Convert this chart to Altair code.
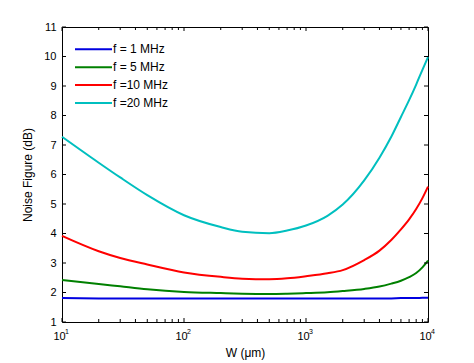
import altair as alt
import pandas as pd

# ---- data ----
W = [10, 20, 30, 50, 100, 200, 300, 500, 700, 1000, 1500, 2000, 3000, 4000, 5000, 6000, 7000, 8000, 9000, 10000]
nf_1mhz = [1.81, 1.80, 1.80, 1.80, 1.80, 1.80, 1.80, 1.80, 1.80, 1.80, 1.80, 1.80, 1.80, 1.80, 1.80, 1.81, 1.81, 1.81, 1.82, 1.82]
nf_5mhz = [2.42, 2.29, 2.21, 2.11, 2.02, 1.98, 1.96, 1.95, 1.96, 1.98, 2.01, 2.05, 2.12, 2.20, 2.30, 2.40, 2.52, 2.66, 2.85, 3.08]
nf_10mhz = [3.92, 3.40, 3.17, 2.95, 2.68, 2.53, 2.47, 2.45, 2.48, 2.55, 2.65, 2.76, 3.10, 3.42, 3.78, 4.14, 4.48, 4.83, 5.20, 5.59]
nf_20mhz = [7.28, 6.40, 5.90, 5.30, 4.62, 4.22, 4.06, 4.01, 4.10, 4.27, 4.60, 4.98, 5.80, 6.57, 7.28, 7.95, 8.52, 9.05, 9.55, 9.98]

series_names = ["f = 1 MHz", "f = 5 MHz", "f =10 MHz", "f =20 MHz"]
series_values = [nf_1mhz, nf_5mhz, nf_10mhz, nf_20mhz]
colors = ["#0000e0", "#008000", "#ff0000", "#00bfbf"]

y_ticks = list(range(1, 12))
x_major = [10, 100, 1000, 10000]
x_exponents = ["1", "2", "3", "4"]
x_minor = [k * 10 ** e for e in (1, 2, 3) for k in range(2, 10)]

PW, PH = 366, 295
FONT = "Liberation Sans"

rows = []
for name, vals in zip(series_names, series_values):
    for w, v in zip(W, vals):
        rows.append({"series": name, "W": w, "NF": v})
df = pd.DataFrame(rows)

xscale = alt.Scale(type="log", domain=[10, 10000], nice=False)
yscale = alt.Scale(domain=[1, 11], nice=False, zero=False)
cscale = alt.Scale(domain=series_names, range=colors)

xaxis = alt.Axis(values=x_major, labelExpr="'10'", ticks=False, tickSize=0,
                 domain=False, grid=False, labelPadding=8, labelOffset=-3,
                 labelFlush=False, title="W (μm)", titlePadding=6, titleFontSize=12)
yaxis = alt.Axis(values=y_ticks, ticks=False, tickSize=0, domain=False,
                 grid=False, labelPadding=6, title="Noise Figure (dB)", titlePadding=9,
                 titleFontSize=12)

lines = alt.Chart(df).mark_line(strokeWidth=2, interpolate="monotone").encode(
    x=alt.X("W:Q", scale=xscale, axis=xaxis),
    y=alt.Y("NF:Q", scale=yscale, axis=yaxis),
    color=alt.Color("series:N", scale=cscale, legend=None),
    order=alt.Order("series:N"),
)

exp_df = pd.DataFrame({"tick": x_major, "exp": x_exponents})
exps = alt.Chart(exp_df).mark_text(fontSize=7, font=FONT, align="left",
                                   baseline="alphabetic", dx=3, color="black").encode(
    x=alt.X("tick:Q", scale=xscale, axis=xaxis),
    y=alt.value(PH + 12),
    text="exp:N",
)

yt_df = pd.DataFrame({"v": y_ticks})
ytl = alt.Chart(yt_df).mark_rule(color="black", strokeWidth=1).encode(
    y=alt.Y("v:Q", scale=yscale, axis=yaxis), x=alt.value(0), x2=alt.value(4))
ytr = alt.Chart(yt_df).mark_rule(color="black", strokeWidth=1).encode(
    y=alt.Y("v:Q", scale=yscale, axis=yaxis), x=alt.value(PW - 4), x2=alt.value(PW))

xmaj_df = pd.DataFrame({"v": x_major})
xmin_df = pd.DataFrame({"v": x_minor})
def xticks(d, y0, y1):
    return alt.Chart(d).mark_rule(color="black", strokeWidth=1).encode(
        x=alt.X("v:Q", scale=xscale, axis=xaxis), y=alt.value(y0), y2=alt.value(y1))

xt = [xticks(xmaj_df, PH, PH - 4), xticks(xmaj_df, 0, 4),
      xticks(xmin_df, PH, PH - 3), xticks(xmin_df, 0, 3)]

leg_df = pd.DataFrame({"series": series_names})
leg_layers = []
for i, name in enumerate(series_names):
    base = alt.Chart(leg_df).transform_filter(alt.datum.series == name)
    ly = 22.3 + 17.9 * i
    leg_layers.append(base.mark_rule(strokeWidth=2).encode(
        x=alt.value(13), x2=alt.value(50), y=alt.value(ly),
        color=alt.Color("series:N", scale=cscale, legend=None)))
    leg_layers.append(base.mark_text(align="left", baseline="middle", fontSize=12,
                                     font=FONT, color="black").encode(
        x=alt.value(51), y=alt.value(ly), text="series:N"))

chart = alt.layer(lines, exps, ytl, ytr, *xt, *leg_layers).properties(
    width=PW, height=PH,
    autosize=alt.AutoSizeParams(type="none"),
    padding={"left": 54, "top": 19, "right": 36, "bottom": 40},
    background="white",
).configure_view(stroke="black", strokeWidth=1).configure_axis(
    labelFont=FONT, labelFontSize=11, labelColor="black",
    titleFont=FONT, titleFontSize=12, titleFontWeight="normal", titleColor="black",
)

chart.save("out.html", embed_options={"renderer": "svg", "actions": False})
